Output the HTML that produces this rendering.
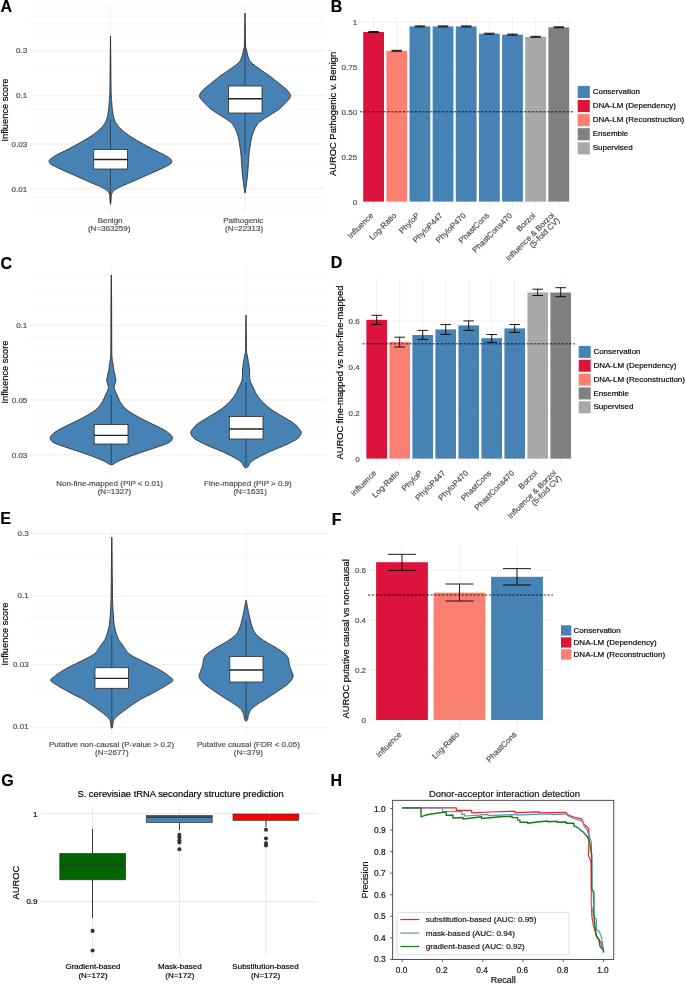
<!DOCTYPE html>
<html lang="en"><head><meta charset="utf-8"><title>Figure</title>
<style>html,body{margin:0;padding:0;background:#fff}svg{display:block}text{font-family:"Liberation Sans", Arial, Helvetica, sans-serif}</style>
</head><body>
<svg width="685" height="984" viewBox="0 0 685 984" font-family='"Liberation Sans", Arial, Helvetica, sans-serif'>
<rect x="0.00" y="0.00" width="685.00" height="984.00" fill="#fff"/>
<text x="0.50" y="12.40" font-size="16" fill="#000" stroke="#000" stroke-width="0.18" text-anchor="start" font-weight="bold">A</text>
<text x="330.70" y="12.40" font-size="16" fill="#000" stroke="#000" stroke-width="0.18" text-anchor="start" font-weight="bold">B</text>
<text x="0.50" y="268.60" font-size="16" fill="#000" stroke="#000" stroke-width="0.18" text-anchor="start" font-weight="bold">C</text>
<text x="330.70" y="268.40" font-size="16" fill="#000" stroke="#000" stroke-width="0.18" text-anchor="start" font-weight="bold">D</text>
<text x="0.20" y="524.40" font-size="16" fill="#000" stroke="#000" stroke-width="0.18" text-anchor="start" font-weight="bold">E</text>
<text x="331.80" y="524.70" font-size="16" fill="#000" stroke="#000" stroke-width="0.18" text-anchor="start" font-weight="bold">F</text>
<text x="1.20" y="785.80" font-size="16" fill="#000" stroke="#000" stroke-width="0.18" text-anchor="start" font-weight="bold">G</text>
<text x="330.60" y="785.80" font-size="16" fill="#000" stroke="#000" stroke-width="0.18" text-anchor="start" font-weight="bold">H</text>
<line x1="30.00" y1="209.28" x2="325.00" y2="209.28" stroke="#f3f3f3" stroke-width="0.5"/>
<line x1="30.00" y1="203.04" x2="325.00" y2="203.04" stroke="#f3f3f3" stroke-width="0.5"/>
<line x1="30.00" y1="197.63" x2="325.00" y2="197.63" stroke="#f3f3f3" stroke-width="0.5"/>
<line x1="30.00" y1="192.86" x2="325.00" y2="192.86" stroke="#f3f3f3" stroke-width="0.5"/>
<line x1="30.00" y1="160.54" x2="325.00" y2="160.54" stroke="#f3f3f3" stroke-width="0.5"/>
<line x1="30.00" y1="144.13" x2="325.00" y2="144.13" stroke="#f3f3f3" stroke-width="0.5"/>
<line x1="30.00" y1="132.49" x2="325.00" y2="132.49" stroke="#f3f3f3" stroke-width="0.5"/>
<line x1="30.00" y1="123.46" x2="325.00" y2="123.46" stroke="#f3f3f3" stroke-width="0.5"/>
<line x1="30.00" y1="116.08" x2="325.00" y2="116.08" stroke="#f3f3f3" stroke-width="0.5"/>
<line x1="30.00" y1="109.84" x2="325.00" y2="109.84" stroke="#f3f3f3" stroke-width="0.5"/>
<line x1="30.00" y1="104.43" x2="325.00" y2="104.43" stroke="#f3f3f3" stroke-width="0.5"/>
<line x1="30.00" y1="99.66" x2="325.00" y2="99.66" stroke="#f3f3f3" stroke-width="0.5"/>
<line x1="30.00" y1="67.34" x2="325.00" y2="67.34" stroke="#f3f3f3" stroke-width="0.5"/>
<line x1="30.00" y1="50.93" x2="325.00" y2="50.93" stroke="#f3f3f3" stroke-width="0.5"/>
<line x1="30.00" y1="39.29" x2="325.00" y2="39.29" stroke="#f3f3f3" stroke-width="0.5"/>
<line x1="30.00" y1="30.26" x2="325.00" y2="30.26" stroke="#f3f3f3" stroke-width="0.5"/>
<line x1="30.00" y1="22.88" x2="325.00" y2="22.88" stroke="#f3f3f3" stroke-width="0.5"/>
<line x1="30.00" y1="16.64" x2="325.00" y2="16.64" stroke="#f3f3f3" stroke-width="0.5"/>
<line x1="30.00" y1="11.23" x2="325.00" y2="11.23" stroke="#f3f3f3" stroke-width="0.5"/>
<line x1="30.00" y1="6.46" x2="325.00" y2="6.46" stroke="#f3f3f3" stroke-width="0.5"/>
<line x1="30.00" y1="50.50" x2="325.00" y2="50.50" stroke="#e9e9e9" stroke-width="0.65"/>
<text x="27.10" y="53.40" font-size="8" fill="#4d4d4d" stroke="#4d4d4d" stroke-width="0.18" text-anchor="end">0.3</text>
<line x1="30.00" y1="95.40" x2="325.00" y2="95.40" stroke="#e9e9e9" stroke-width="0.65"/>
<text x="27.10" y="98.30" font-size="8" fill="#4d4d4d" stroke="#4d4d4d" stroke-width="0.18" text-anchor="end">0.1</text>
<line x1="30.00" y1="144.00" x2="325.00" y2="144.00" stroke="#e9e9e9" stroke-width="0.65"/>
<text x="27.10" y="146.90" font-size="8" fill="#4d4d4d" stroke="#4d4d4d" stroke-width="0.18" text-anchor="end">0.03</text>
<line x1="30.00" y1="188.60" x2="325.00" y2="188.60" stroke="#e9e9e9" stroke-width="0.65"/>
<text x="27.10" y="191.50" font-size="8" fill="#4d4d4d" stroke="#4d4d4d" stroke-width="0.18" text-anchor="end">0.01</text>
<line x1="110.50" y1="5.00" x2="110.50" y2="213.50" stroke="#e9e9e9" stroke-width="0.65"/>
<line x1="245.00" y1="5.00" x2="245.00" y2="213.50" stroke="#e9e9e9" stroke-width="0.65"/>
<text transform="translate(8.20,110.00) rotate(-90)" font-size="9.3" fill="#000" stroke="#000" stroke-width="0.18" text-anchor="middle">Influence score</text>
<path d="M110.50,36.00 L110.47,38.60 L110.42,42.19 L110.36,46.44 L110.30,51.04 L110.25,55.66 L110.20,60.00 L110.16,64.28 L110.13,68.80 L110.10,73.34 L110.07,77.70 L110.04,81.66 L110.00,85.00 L109.96,87.62 L109.91,89.69 L109.87,91.34 L109.82,92.76 L109.76,94.09 L109.70,95.50 L109.63,96.92 L109.56,98.22 L109.47,99.44 L109.39,100.61 L109.30,101.78 L109.20,103.00 L109.11,104.23 L109.03,105.43 L108.94,106.62 L108.84,107.85 L108.69,109.13 L108.50,110.50 L108.28,111.99 L108.04,113.59 L107.77,115.24 L107.44,116.90 L107.02,118.50 L106.50,120.00 L105.88,121.38 L105.20,122.68 L104.42,123.93 L103.56,125.15 L102.59,126.37 L101.50,127.60 L100.30,128.84 L98.99,130.07 L97.58,131.29 L96.06,132.52 L94.43,133.75 L92.70,135.00 L90.83,136.27 L88.82,137.56 L86.70,138.86 L84.51,140.15 L82.30,141.44 L80.10,142.70 L77.85,143.97 L75.51,145.25 L73.14,146.52 L70.80,147.75 L68.57,148.92 L66.50,150.00 L64.56,151.00 L62.69,151.93 L60.91,152.80 L59.27,153.60 L57.79,154.34 L56.50,155.00 L55.44,155.57 L54.60,156.04 L53.93,156.44 L53.35,156.80 L52.83,157.14 L52.30,157.50 L51.78,157.86 L51.31,158.20 L50.89,158.53 L50.51,158.85 L50.19,159.17 L49.90,159.50 L49.66,159.84 L49.46,160.17 L49.30,160.51 L49.19,160.85 L49.12,161.18 L49.10,161.50 L49.12,161.81 L49.20,162.12 L49.31,162.42 L49.47,162.71 L49.67,163.01 L49.90,163.30 L50.09,163.55 L50.23,163.75 L50.40,163.95 L50.71,164.19 L51.24,164.53 L52.10,165.00 L53.28,165.61 L54.69,166.32 L56.34,167.12 L58.20,168.00 L60.26,168.97 L62.50,170.00 L65.11,171.18 L68.14,172.53 L71.36,173.95 L74.57,175.36 L77.56,176.68 L80.10,177.80 L82.16,178.72 L83.89,179.50 L85.40,180.18 L86.77,180.79 L88.11,181.39 L89.50,182.00 L90.94,182.62 L92.36,183.22 L93.74,183.80 L95.07,184.36 L96.33,184.89 L97.50,185.40 L98.58,185.88 L99.58,186.33 L100.51,186.76 L101.38,187.18 L102.20,187.59 L103.00,188.00 L103.76,188.40 L104.48,188.79 L105.15,189.17 L105.78,189.56 L106.36,189.96 L106.90,190.40 L107.40,190.87 L107.85,191.37 L108.26,191.88 L108.62,192.41 L108.93,192.95 L109.20,193.50 L109.40,194.05 L109.54,194.62 L109.63,195.19 L109.69,195.78 L109.74,196.38 L109.80,197.00 L109.85,197.64 L109.89,198.31 L109.91,199.00 L109.93,199.69 L109.95,200.36 L110.00,201.00 L110.07,201.65 L110.16,202.33 L110.26,203.00 L110.36,203.61 L110.44,204.12 L110.50,204.50 L110.50,204.50 L110.56,204.12 L110.64,203.61 L110.74,203.00 L110.84,202.33 L110.93,201.65 L111.00,201.00 L111.05,200.36 L111.07,199.69 L111.09,199.00 L111.11,198.31 L111.15,197.64 L111.20,197.00 L111.26,196.38 L111.31,195.78 L111.37,195.19 L111.46,194.62 L111.60,194.05 L111.80,193.50 L112.07,192.95 L112.38,192.41 L112.74,191.88 L113.15,191.37 L113.60,190.87 L114.10,190.40 L114.64,189.96 L115.22,189.56 L115.85,189.17 L116.52,188.79 L117.24,188.40 L118.00,188.00 L118.80,187.59 L119.62,187.18 L120.49,186.76 L121.42,186.33 L122.42,185.88 L123.50,185.40 L124.67,184.89 L125.93,184.36 L127.26,183.80 L128.64,183.22 L130.06,182.62 L131.50,182.00 L132.89,181.39 L134.23,180.79 L135.60,180.18 L137.11,179.50 L138.84,178.72 L140.90,177.80 L143.44,176.68 L146.43,175.36 L149.64,173.95 L152.86,172.53 L155.89,171.18 L158.50,170.00 L160.74,168.97 L162.80,168.00 L164.66,167.12 L166.31,166.32 L167.72,165.61 L168.90,165.00 L169.76,164.53 L170.29,164.19 L170.60,163.95 L170.77,163.75 L170.91,163.55 L171.10,163.30 L171.33,163.01 L171.53,162.71 L171.69,162.42 L171.80,162.12 L171.88,161.81 L171.90,161.50 L171.88,161.18 L171.81,160.85 L171.70,160.51 L171.54,160.17 L171.34,159.84 L171.10,159.50 L170.81,159.17 L170.49,158.85 L170.11,158.53 L169.69,158.20 L169.22,157.86 L168.70,157.50 L168.17,157.14 L167.65,156.80 L167.07,156.44 L166.40,156.04 L165.56,155.57 L164.50,155.00 L163.21,154.34 L161.73,153.60 L160.09,152.80 L158.31,151.93 L156.44,151.00 L154.50,150.00 L152.43,148.92 L150.20,147.75 L147.86,146.52 L145.49,145.25 L143.15,143.97 L140.90,142.70 L138.70,141.44 L136.49,140.15 L134.30,138.86 L132.18,137.56 L130.17,136.27 L128.30,135.00 L126.57,133.75 L124.94,132.52 L123.42,131.29 L122.01,130.07 L120.70,128.84 L119.50,127.60 L118.41,126.37 L117.44,125.15 L116.58,123.93 L115.80,122.68 L115.12,121.38 L114.50,120.00 L113.98,118.50 L113.56,116.90 L113.23,115.24 L112.96,113.59 L112.72,111.99 L112.50,110.50 L112.31,109.13 L112.16,107.85 L112.06,106.62 L111.97,105.43 L111.89,104.23 L111.80,103.00 L111.70,101.78 L111.61,100.61 L111.53,99.44 L111.44,98.22 L111.37,96.92 L111.30,95.50 L111.24,94.09 L111.18,92.76 L111.13,91.34 L111.09,89.69 L111.04,87.62 L111.00,85.00 L110.96,81.66 L110.93,77.70 L110.90,73.34 L110.87,68.80 L110.84,64.28 L110.80,60.00 L110.75,55.66 L110.70,51.04 L110.64,46.44 L110.58,42.19 L110.53,38.60 L110.50,36.00Z" fill="#4682B4" stroke="#2b2b2b" stroke-width="0.9" stroke-linejoin="round"/>
<line x1="110.50" y1="120.00" x2="110.50" y2="149.40" stroke="#2b2b2b" stroke-width="0.7"/>
<line x1="110.50" y1="169.00" x2="110.50" y2="204.00" stroke="#2b2b2b" stroke-width="0.7"/>
<rect x="93.70" y="149.40" width="33.70" height="19.60" fill="#fff" stroke="#2b2b2b" stroke-width="0.8"/>
<line x1="93.70" y1="159.50" x2="127.40" y2="159.50" stroke="#222" stroke-width="1.35"/>
<path d="M245.00,13.00 L244.97,14.87 L244.92,17.48 L244.86,20.56 L244.80,23.85 L244.75,27.09 L244.70,30.00 L244.67,32.73 L244.66,35.52 L244.64,38.25 L244.62,40.81 L244.58,43.10 L244.50,45.00 L244.39,46.38 L244.26,47.30 L244.11,47.95 L243.94,48.50 L243.73,49.12 L243.50,50.00 L243.24,51.17 L242.94,52.50 L242.62,53.90 L242.28,55.30 L241.90,56.63 L241.50,57.80 L241.14,58.77 L240.84,59.58 L240.51,60.31 L240.06,61.04 L239.42,61.85 L238.50,62.80 L237.20,63.95 L235.56,65.24 L233.72,66.60 L231.83,67.96 L230.01,69.25 L228.40,70.40 L227.00,71.38 L225.70,72.26 L224.47,73.06 L223.29,73.83 L222.14,74.60 L221.00,75.40 L219.87,76.23 L218.79,77.07 L217.73,77.90 L216.69,78.73 L215.65,79.57 L214.60,80.40 L213.54,81.23 L212.47,82.06 L211.41,82.89 L210.36,83.73 L209.32,84.56 L208.30,85.40 L207.27,86.25 L206.23,87.10 L205.19,87.95 L204.21,88.80 L203.30,89.65 L202.50,90.50 L201.79,91.36 L201.13,92.23 L200.54,93.10 L200.06,93.95 L199.71,94.75 L199.50,95.50 L199.44,96.14 L199.50,96.67 L199.69,97.16 L200.00,97.67 L200.44,98.26 L201.00,99.00 L201.75,99.93 L202.70,101.02 L203.78,102.19 L204.91,103.37 L206.01,104.50 L207.00,105.50 L207.82,106.34 L208.52,107.06 L209.19,107.72 L209.93,108.39 L210.83,109.13 L212.00,110.00 L213.54,111.06 L215.41,112.26 L217.44,113.53 L219.48,114.80 L221.39,115.98 L223.00,117.00 L224.31,117.84 L225.44,118.56 L226.43,119.19 L227.32,119.78 L228.16,120.37 L229.00,121.00 L229.80,121.60 L230.52,122.11 L231.19,122.62 L231.84,123.22 L232.50,123.99 L233.20,125.00 L233.96,126.32 L234.77,127.89 L235.59,129.62 L236.37,131.44 L237.09,133.26 L237.70,135.00 L238.19,136.67 L238.58,138.33 L238.90,140.00 L239.18,141.67 L239.44,143.33 L239.70,145.00 L239.96,146.67 L240.21,148.33 L240.43,150.00 L240.64,151.67 L240.83,153.33 L241.00,155.00 L241.15,156.67 L241.27,158.33 L241.38,160.00 L241.48,161.67 L241.58,163.33 L241.70,165.00 L241.82,166.67 L241.94,168.33 L242.07,170.00 L242.20,171.67 L242.34,173.33 L242.50,175.00 L242.68,176.69 L242.87,178.41 L243.07,180.12 L243.28,181.81 L243.49,183.45 L243.70,185.00 L243.93,186.54 L244.17,188.11 L244.43,189.62 L244.66,191.00 L244.86,192.15 L245.00,193.00 L245.00,193.00 L245.14,192.15 L245.34,191.00 L245.57,189.62 L245.83,188.11 L246.07,186.54 L246.30,185.00 L246.51,183.45 L246.72,181.81 L246.93,180.12 L247.13,178.41 L247.32,176.69 L247.50,175.00 L247.66,173.33 L247.80,171.67 L247.93,170.00 L248.06,168.33 L248.18,166.67 L248.30,165.00 L248.42,163.33 L248.52,161.67 L248.62,160.00 L248.73,158.33 L248.85,156.67 L249.00,155.00 L249.17,153.33 L249.36,151.67 L249.57,150.00 L249.79,148.33 L250.04,146.67 L250.30,145.00 L250.56,143.33 L250.82,141.67 L251.10,140.00 L251.42,138.33 L251.81,136.67 L252.30,135.00 L252.91,133.26 L253.63,131.44 L254.41,129.62 L255.23,127.89 L256.04,126.32 L256.80,125.00 L257.50,123.99 L258.16,123.22 L258.81,122.62 L259.48,122.11 L260.20,121.60 L261.00,121.00 L261.84,120.37 L262.68,119.78 L263.57,119.19 L264.56,118.56 L265.69,117.84 L267.00,117.00 L268.61,115.98 L270.52,114.80 L272.56,113.53 L274.59,112.26 L276.46,111.06 L278.00,110.00 L279.17,109.13 L280.07,108.39 L280.81,107.72 L281.48,107.06 L282.18,106.34 L283.00,105.50 L283.99,104.50 L285.09,103.37 L286.22,102.19 L287.30,101.02 L288.25,99.93 L289.00,99.00 L289.56,98.26 L290.00,97.67 L290.31,97.16 L290.50,96.67 L290.56,96.14 L290.50,95.50 L290.29,94.75 L289.94,93.95 L289.46,93.10 L288.87,92.23 L288.21,91.36 L287.50,90.50 L286.70,89.65 L285.79,88.80 L284.81,87.95 L283.77,87.10 L282.73,86.25 L281.70,85.40 L280.68,84.56 L279.64,83.73 L278.59,82.89 L277.53,82.06 L276.46,81.23 L275.40,80.40 L274.35,79.57 L273.31,78.73 L272.27,77.90 L271.21,77.07 L270.13,76.23 L269.00,75.40 L267.86,74.60 L266.71,73.83 L265.53,73.06 L264.30,72.26 L263.00,71.38 L261.60,70.40 L259.99,69.25 L258.17,67.96 L256.27,66.60 L254.44,65.24 L252.80,63.95 L251.50,62.80 L250.58,61.85 L249.94,61.04 L249.49,60.31 L249.16,59.58 L248.86,58.77 L248.50,57.80 L248.10,56.63 L247.72,55.30 L247.38,53.90 L247.06,52.50 L246.76,51.17 L246.50,50.00 L246.27,49.12 L246.06,48.50 L245.89,47.95 L245.74,47.30 L245.61,46.38 L245.50,45.00 L245.42,43.10 L245.38,40.81 L245.36,38.25 L245.34,35.52 L245.33,32.73 L245.30,30.00 L245.25,27.09 L245.20,23.85 L245.14,20.56 L245.08,17.48 L245.03,14.87 L245.00,13.00Z" fill="#4682B4" stroke="#2b2b2b" stroke-width="0.9" stroke-linejoin="round"/>
<line x1="245.00" y1="40.00" x2="245.00" y2="86.00" stroke="#2b2b2b" stroke-width="0.7"/>
<line x1="245.00" y1="113.00" x2="245.00" y2="154.00" stroke="#2b2b2b" stroke-width="0.7"/>
<rect x="228.50" y="86.00" width="33.50" height="27.00" fill="#fff" stroke="#2b2b2b" stroke-width="0.8"/>
<line x1="228.50" y1="98.70" x2="262.00" y2="98.70" stroke="#222" stroke-width="1.35"/>
<text x="110.10" y="223.40" font-size="8" fill="#4d4d4d" stroke="#4d4d4d" stroke-width="0.18" text-anchor="middle">Benign</text>
<text x="109.20" y="231.40" font-size="8" fill="#4d4d4d" stroke="#4d4d4d" stroke-width="0.18" text-anchor="middle">(N=363259)</text>
<text x="243.30" y="223.40" font-size="8" fill="#4d4d4d" stroke="#4d4d4d" stroke-width="0.18" text-anchor="middle">Pathogenic</text>
<text x="244.10" y="231.40" font-size="8" fill="#4d4d4d" stroke="#4d4d4d" stroke-width="0.18" text-anchor="middle">(N=22313)</text>
<line x1="360.00" y1="22.00" x2="573.00" y2="22.00" stroke="#e9e9e9" stroke-width="0.65"/>
<text x="357.20" y="24.90" font-size="8" fill="#4d4d4d" stroke="#4d4d4d" stroke-width="0.18" text-anchor="end">1</text>
<line x1="360.00" y1="66.90" x2="573.00" y2="66.90" stroke="#e9e9e9" stroke-width="0.65"/>
<text x="357.20" y="69.80" font-size="8" fill="#4d4d4d" stroke="#4d4d4d" stroke-width="0.18" text-anchor="end">0.75</text>
<line x1="360.00" y1="111.80" x2="573.00" y2="111.80" stroke="#e9e9e9" stroke-width="0.65"/>
<text x="357.20" y="114.70" font-size="8" fill="#4d4d4d" stroke="#4d4d4d" stroke-width="0.18" text-anchor="end">0.50</text>
<line x1="360.00" y1="156.70" x2="573.00" y2="156.70" stroke="#e9e9e9" stroke-width="0.65"/>
<text x="357.20" y="159.60" font-size="8" fill="#4d4d4d" stroke="#4d4d4d" stroke-width="0.18" text-anchor="end">0.25</text>
<line x1="360.00" y1="201.60" x2="573.00" y2="201.60" stroke="#e9e9e9" stroke-width="0.65"/>
<text x="357.20" y="204.50" font-size="8" fill="#4d4d4d" stroke="#4d4d4d" stroke-width="0.18" text-anchor="end">0</text>
<line x1="373.60" y1="17.00" x2="373.60" y2="210.00" stroke="#e9e9e9" stroke-width="0.65"/>
<line x1="396.75" y1="17.00" x2="396.75" y2="210.00" stroke="#e9e9e9" stroke-width="0.65"/>
<line x1="419.90" y1="17.00" x2="419.90" y2="210.00" stroke="#e9e9e9" stroke-width="0.65"/>
<line x1="443.05" y1="17.00" x2="443.05" y2="210.00" stroke="#e9e9e9" stroke-width="0.65"/>
<line x1="466.20" y1="17.00" x2="466.20" y2="210.00" stroke="#e9e9e9" stroke-width="0.65"/>
<line x1="489.35" y1="17.00" x2="489.35" y2="210.00" stroke="#e9e9e9" stroke-width="0.65"/>
<line x1="512.50" y1="17.00" x2="512.50" y2="210.00" stroke="#e9e9e9" stroke-width="0.65"/>
<line x1="535.65" y1="17.00" x2="535.65" y2="210.00" stroke="#e9e9e9" stroke-width="0.65"/>
<line x1="558.80" y1="17.00" x2="558.80" y2="210.00" stroke="#e9e9e9" stroke-width="0.65"/>
<rect x="363.20" y="32.00" width="20.80" height="169.60" fill="#DC143C"/>
<rect x="386.35" y="50.80" width="20.80" height="150.80" fill="#FA8072"/>
<rect x="409.50" y="26.40" width="20.80" height="175.20" fill="#4682B4"/>
<rect x="432.65" y="26.40" width="20.80" height="175.20" fill="#4682B4"/>
<rect x="455.80" y="26.40" width="20.80" height="175.20" fill="#4682B4"/>
<rect x="478.95" y="33.70" width="20.80" height="167.90" fill="#4682B4"/>
<rect x="502.10" y="34.60" width="20.80" height="167.00" fill="#4682B4"/>
<rect x="525.25" y="36.80" width="20.80" height="164.80" fill="#A9A9A9"/>
<rect x="548.40" y="27.30" width="20.80" height="174.30" fill="#808080"/>
<line x1="373.60" y1="31.50" x2="373.60" y2="32.50" stroke="#000" stroke-width="0.9"/>
<line x1="368.40" y1="31.50" x2="378.80" y2="31.50" stroke="#000" stroke-width="0.9"/>
<line x1="368.40" y1="32.50" x2="378.80" y2="32.50" stroke="#000" stroke-width="0.9"/>
<line x1="396.75" y1="50.30" x2="396.75" y2="51.30" stroke="#000" stroke-width="0.9"/>
<line x1="391.55" y1="50.30" x2="401.95" y2="50.30" stroke="#000" stroke-width="0.9"/>
<line x1="391.55" y1="51.30" x2="401.95" y2="51.30" stroke="#000" stroke-width="0.9"/>
<line x1="419.90" y1="25.90" x2="419.90" y2="26.90" stroke="#000" stroke-width="0.9"/>
<line x1="414.70" y1="25.90" x2="425.10" y2="25.90" stroke="#000" stroke-width="0.9"/>
<line x1="414.70" y1="26.90" x2="425.10" y2="26.90" stroke="#000" stroke-width="0.9"/>
<line x1="443.05" y1="25.90" x2="443.05" y2="26.90" stroke="#000" stroke-width="0.9"/>
<line x1="437.85" y1="25.90" x2="448.25" y2="25.90" stroke="#000" stroke-width="0.9"/>
<line x1="437.85" y1="26.90" x2="448.25" y2="26.90" stroke="#000" stroke-width="0.9"/>
<line x1="466.20" y1="25.90" x2="466.20" y2="26.90" stroke="#000" stroke-width="0.9"/>
<line x1="461.00" y1="25.90" x2="471.40" y2="25.90" stroke="#000" stroke-width="0.9"/>
<line x1="461.00" y1="26.90" x2="471.40" y2="26.90" stroke="#000" stroke-width="0.9"/>
<line x1="489.35" y1="33.20" x2="489.35" y2="34.20" stroke="#000" stroke-width="0.9"/>
<line x1="484.15" y1="33.20" x2="494.55" y2="33.20" stroke="#000" stroke-width="0.9"/>
<line x1="484.15" y1="34.20" x2="494.55" y2="34.20" stroke="#000" stroke-width="0.9"/>
<line x1="512.50" y1="34.10" x2="512.50" y2="35.10" stroke="#000" stroke-width="0.9"/>
<line x1="507.30" y1="34.10" x2="517.70" y2="34.10" stroke="#000" stroke-width="0.9"/>
<line x1="507.30" y1="35.10" x2="517.70" y2="35.10" stroke="#000" stroke-width="0.9"/>
<line x1="535.65" y1="36.30" x2="535.65" y2="37.30" stroke="#000" stroke-width="0.9"/>
<line x1="530.45" y1="36.30" x2="540.85" y2="36.30" stroke="#000" stroke-width="0.9"/>
<line x1="530.45" y1="37.30" x2="540.85" y2="37.30" stroke="#000" stroke-width="0.9"/>
<line x1="558.80" y1="26.80" x2="558.80" y2="27.80" stroke="#000" stroke-width="0.9"/>
<line x1="553.60" y1="26.80" x2="564.00" y2="26.80" stroke="#000" stroke-width="0.9"/>
<line x1="553.60" y1="27.80" x2="564.00" y2="27.80" stroke="#000" stroke-width="0.9"/>
<line x1="360.00" y1="111.80" x2="574.00" y2="111.80" stroke="#000" stroke-width="0.8" stroke-dasharray="2.4,1.5"/>
<text transform="translate(373.80,216.00) rotate(-45)" font-size="8" fill="#4d4d4d" stroke="#4d4d4d" stroke-width="0.18" text-anchor="end">Influence</text>
<text transform="translate(396.95,216.00) rotate(-45)" font-size="8" fill="#4d4d4d" stroke="#4d4d4d" stroke-width="0.18" text-anchor="end">Log-Ratio</text>
<text transform="translate(420.10,216.00) rotate(-45)" font-size="8" fill="#4d4d4d" stroke="#4d4d4d" stroke-width="0.18" text-anchor="end">PhyloP</text>
<text transform="translate(443.25,216.00) rotate(-45)" font-size="8" fill="#4d4d4d" stroke="#4d4d4d" stroke-width="0.18" text-anchor="end">PhyloP447</text>
<text transform="translate(466.40,216.00) rotate(-45)" font-size="8" fill="#4d4d4d" stroke="#4d4d4d" stroke-width="0.18" text-anchor="end">PhyloP470</text>
<text transform="translate(489.55,216.00) rotate(-45)" font-size="8" fill="#4d4d4d" stroke="#4d4d4d" stroke-width="0.18" text-anchor="end">PhastCons</text>
<text transform="translate(512.70,216.00) rotate(-45)" font-size="8" fill="#4d4d4d" stroke="#4d4d4d" stroke-width="0.18" text-anchor="end">PhastCons470</text>
<text transform="translate(535.85,216.00) rotate(-45)" font-size="8" fill="#4d4d4d" stroke="#4d4d4d" stroke-width="0.18" text-anchor="end">Borzoi</text>
<g transform="translate(554.80,215.70) rotate(-45)">
<text font-size="8" fill="#4d4d4d" stroke="#4d4d4d" stroke-width="0.18" text-anchor="end" x="0" y="0">Influence &amp; Borzoi</text>
<text font-size="8" fill="#4d4d4d" stroke="#4d4d4d" stroke-width="0.18" text-anchor="end" x="0" y="7.4">(5-fold CV)</text>
</g>
<text transform="translate(336.00,113.90) rotate(-90)" font-size="9.4" fill="#000" stroke="#000" stroke-width="0.18" text-anchor="middle">AUROC Pathogenic v. Benign</text>
<rect x="577.70" y="85.90" width="12.10" height="12.10" fill="#4682B4"/>
<text x="592.70" y="94.05" font-size="8" fill="#000" stroke="#000" stroke-width="0.18" text-anchor="start">Conservation</text>
<rect x="577.70" y="100.00" width="12.10" height="12.10" fill="#DC143C"/>
<text x="592.70" y="108.15" font-size="8" fill="#000" stroke="#000" stroke-width="0.18" text-anchor="start">DNA-LM (Dependency)</text>
<rect x="577.70" y="114.10" width="12.10" height="12.10" fill="#FA8072"/>
<text x="592.70" y="122.25" font-size="8" fill="#000" stroke="#000" stroke-width="0.18" text-anchor="start">DNA-LM (Reconstruction)</text>
<rect x="577.70" y="128.20" width="12.10" height="12.10" fill="#808080"/>
<text x="592.70" y="136.35" font-size="8" fill="#000" stroke="#000" stroke-width="0.18" text-anchor="start">Ensemble</text>
<rect x="577.70" y="142.30" width="12.10" height="12.10" fill="#A9A9A9"/>
<text x="592.70" y="150.45" font-size="8" fill="#000" stroke="#000" stroke-width="0.18" text-anchor="start">Supervised</text>
<line x1="30.00" y1="454.97" x2="327.00" y2="454.97" stroke="#f3f3f3" stroke-width="0.5"/>
<line x1="30.00" y1="438.38" x2="327.00" y2="438.38" stroke="#f3f3f3" stroke-width="0.5"/>
<line x1="30.00" y1="424.01" x2="327.00" y2="424.01" stroke="#f3f3f3" stroke-width="0.5"/>
<line x1="30.00" y1="411.33" x2="327.00" y2="411.33" stroke="#f3f3f3" stroke-width="0.5"/>
<line x1="30.00" y1="400.00" x2="327.00" y2="400.00" stroke="#f3f3f3" stroke-width="0.5"/>
<line x1="30.00" y1="380.37" x2="327.00" y2="380.37" stroke="#f3f3f3" stroke-width="0.5"/>
<line x1="30.00" y1="363.78" x2="327.00" y2="363.78" stroke="#f3f3f3" stroke-width="0.5"/>
<line x1="30.00" y1="349.41" x2="327.00" y2="349.41" stroke="#f3f3f3" stroke-width="0.5"/>
<line x1="30.00" y1="336.74" x2="327.00" y2="336.74" stroke="#f3f3f3" stroke-width="0.5"/>
<line x1="30.00" y1="325.40" x2="327.00" y2="325.40" stroke="#f3f3f3" stroke-width="0.5"/>
<line x1="30.00" y1="305.78" x2="327.00" y2="305.78" stroke="#f3f3f3" stroke-width="0.5"/>
<line x1="30.00" y1="289.19" x2="327.00" y2="289.19" stroke="#f3f3f3" stroke-width="0.5"/>
<line x1="30.00" y1="274.82" x2="327.00" y2="274.82" stroke="#f3f3f3" stroke-width="0.5"/>
<line x1="30.00" y1="325.40" x2="327.00" y2="325.40" stroke="#e9e9e9" stroke-width="0.65"/>
<text x="27.30" y="328.30" font-size="8" fill="#4d4d4d" stroke="#4d4d4d" stroke-width="0.18" text-anchor="end">0.1</text>
<line x1="30.00" y1="400.00" x2="327.00" y2="400.00" stroke="#e9e9e9" stroke-width="0.65"/>
<text x="27.30" y="402.90" font-size="8" fill="#4d4d4d" stroke="#4d4d4d" stroke-width="0.18" text-anchor="end">0.05</text>
<line x1="30.00" y1="455.00" x2="327.00" y2="455.00" stroke="#e9e9e9" stroke-width="0.65"/>
<text x="27.30" y="457.90" font-size="8" fill="#4d4d4d" stroke="#4d4d4d" stroke-width="0.18" text-anchor="end">0.03</text>
<line x1="111.30" y1="266.00" x2="111.30" y2="473.00" stroke="#e9e9e9" stroke-width="0.65"/>
<line x1="246.00" y1="266.00" x2="246.00" y2="473.00" stroke="#e9e9e9" stroke-width="0.65"/>
<text transform="translate(8.20,372.00) rotate(-90)" font-size="9.3" fill="#000" stroke="#000" stroke-width="0.18" text-anchor="middle">Influence score</text>
<path d="M111.30,275.00 L111.27,277.66 L111.21,281.30 L111.16,285.62 L111.10,290.37 L111.04,295.25 L111.00,300.00 L110.97,304.76 L110.96,309.79 L110.94,314.96 L110.93,320.14 L110.92,325.20 L110.90,330.00 L110.89,334.70 L110.89,339.44 L110.88,344.05 L110.86,348.39 L110.80,352.29 L110.70,355.60 L110.53,358.23 L110.29,360.30 L110.02,361.93 L109.74,363.26 L109.50,364.44 L109.30,365.60 L109.18,366.59 L109.12,367.27 L109.09,367.80 L109.04,368.33 L108.96,369.01 L108.80,370.00 L108.51,371.37 L108.11,373.01 L107.67,374.80 L107.26,376.64 L106.94,378.41 L106.80,380.00 L106.91,381.41 L107.23,382.72 L107.66,383.96 L108.07,385.17 L108.35,386.37 L108.40,387.60 L108.19,388.84 L107.80,390.07 L107.28,391.29 L106.69,392.52 L106.08,393.75 L105.50,395.00 L104.96,396.27 L104.42,397.56 L103.86,398.86 L103.26,400.15 L102.58,401.44 L101.80,402.70 L100.97,403.94 L100.13,405.15 L99.21,406.35 L98.16,407.55 L96.94,408.76 L95.50,410.00 L93.76,411.28 L91.77,412.59 L89.59,413.91 L87.33,415.22 L85.07,416.49 L82.90,417.70 L80.80,418.83 L78.70,419.90 L76.59,420.94 L74.49,421.95 L72.39,422.97 L70.30,424.00 L68.14,425.07 L65.90,426.15 L63.66,427.23 L61.50,428.30 L59.52,429.33 L57.80,430.30 L56.33,431.22 L55.05,432.11 L53.94,432.96 L52.99,433.78 L52.18,434.56 L51.50,435.30 L50.94,435.99 L50.53,436.62 L50.26,437.22 L50.13,437.80 L50.14,438.39 L50.30,439.00 L50.56,439.63 L50.90,440.24 L51.38,440.87 L52.07,441.51 L53.02,442.18 L54.30,442.90 L55.98,443.67 L58.04,444.49 L60.36,445.33 L62.83,446.19 L65.35,447.05 L67.80,447.90 L70.24,448.73 L72.76,449.56 L75.33,450.39 L77.90,451.23 L80.44,452.06 L82.90,452.90 L85.35,453.77 L87.84,454.67 L90.30,455.57 L92.64,456.45 L94.80,457.27 L96.70,458.00 L98.31,458.63 L99.70,459.19 L100.89,459.69 L101.95,460.15 L102.90,460.58 L103.80,461.00 L104.61,461.40 L105.29,461.77 L105.87,462.11 L106.38,462.42 L106.85,462.72 L107.30,463.00 L107.72,463.27 L108.08,463.51 L108.39,463.74 L108.69,463.95 L108.98,464.14 L109.30,464.30 L109.66,464.44 L110.04,464.54 L110.42,464.63 L110.78,464.70 L111.08,464.75 L111.30,464.80 L111.30,464.80 L111.52,464.75 L111.82,464.70 L112.17,464.63 L112.56,464.54 L112.94,464.44 L113.30,464.30 L113.62,464.14 L113.91,463.95 L114.21,463.74 L114.52,463.51 L114.88,463.27 L115.30,463.00 L115.75,462.72 L116.22,462.42 L116.73,462.11 L117.31,461.77 L117.99,461.40 L118.80,461.00 L119.70,460.58 L120.65,460.15 L121.71,459.69 L122.90,459.19 L124.29,458.63 L125.90,458.00 L127.80,457.27 L129.96,456.45 L132.30,455.57 L134.76,454.67 L137.25,453.77 L139.70,452.90 L142.16,452.06 L144.70,451.23 L147.27,450.39 L149.84,449.56 L152.36,448.73 L154.80,447.90 L157.25,447.05 L159.77,446.19 L162.24,445.33 L164.56,444.49 L166.62,443.67 L168.30,442.90 L169.58,442.18 L170.53,441.51 L171.22,440.87 L171.70,440.24 L172.04,439.63 L172.30,439.00 L172.46,438.39 L172.47,437.80 L172.34,437.22 L172.07,436.62 L171.66,435.99 L171.10,435.30 L170.42,434.56 L169.61,433.78 L168.66,432.96 L167.55,432.11 L166.27,431.22 L164.80,430.30 L163.08,429.33 L161.10,428.30 L158.94,427.23 L156.70,426.15 L154.46,425.07 L152.30,424.00 L150.21,422.97 L148.11,421.95 L146.01,420.94 L143.90,419.90 L141.80,418.83 L139.70,417.70 L137.53,416.49 L135.27,415.22 L133.01,413.91 L130.83,412.59 L128.84,411.28 L127.10,410.00 L125.66,408.76 L124.44,407.55 L123.39,406.35 L122.47,405.15 L121.63,403.94 L120.80,402.70 L120.02,401.44 L119.34,400.15 L118.74,398.86 L118.18,397.56 L117.64,396.27 L117.10,395.00 L116.52,393.75 L115.91,392.52 L115.32,391.29 L114.80,390.07 L114.41,388.84 L114.20,387.60 L114.25,386.37 L114.53,385.17 L114.94,383.96 L115.37,382.72 L115.69,381.41 L115.80,380.00 L115.66,378.41 L115.34,376.64 L114.93,374.80 L114.49,373.01 L114.09,371.37 L113.80,370.00 L113.64,369.01 L113.56,368.33 L113.51,367.80 L113.48,367.27 L113.42,366.59 L113.30,365.60 L113.10,364.44 L112.86,363.26 L112.58,361.93 L112.31,360.30 L112.07,358.23 L111.90,355.60 L111.80,352.29 L111.74,348.39 L111.72,344.05 L111.71,339.44 L111.71,334.70 L111.70,330.00 L111.68,325.20 L111.67,320.14 L111.66,314.96 L111.64,309.79 L111.63,304.76 L111.60,300.00 L111.56,295.25 L111.50,290.37 L111.44,285.62 L111.39,281.30 L111.33,277.66 L111.30,275.00Z" fill="#4682B4" stroke="#2b2b2b" stroke-width="0.9" stroke-linejoin="round"/>
<line x1="111.30" y1="395.00" x2="111.30" y2="424.50" stroke="#2b2b2b" stroke-width="0.7"/>
<line x1="111.30" y1="444.00" x2="111.30" y2="463.00" stroke="#2b2b2b" stroke-width="0.7"/>
<rect x="94.20" y="424.50" width="33.80" height="19.50" fill="#fff" stroke="#2b2b2b" stroke-width="0.8"/>
<line x1="94.20" y1="435.30" x2="128.00" y2="435.30" stroke="#222" stroke-width="1.35"/>
<path d="M246.00,315.00 L245.97,317.23 L245.92,320.35 L245.86,324.03 L245.80,327.93 L245.75,331.70 L245.70,335.00 L245.67,337.96 L245.65,340.89 L245.63,343.68 L245.61,346.27 L245.57,348.57 L245.50,350.50 L245.41,351.90 L245.31,352.79 L245.19,353.39 L245.06,353.92 L244.89,354.59 L244.70,355.60 L244.45,357.05 L244.16,358.78 L243.83,360.64 L243.51,362.50 L243.22,364.20 L243.00,365.60 L242.85,366.59 L242.74,367.27 L242.68,367.80 L242.62,368.33 L242.57,369.01 L242.50,370.00 L242.45,371.37 L242.44,373.01 L242.43,374.80 L242.37,376.64 L242.25,378.41 L242.00,380.00 L241.62,381.41 L241.12,382.72 L240.55,383.96 L239.93,385.17 L239.31,386.37 L238.70,387.60 L238.14,388.84 L237.59,390.07 L237.04,391.29 L236.44,392.52 L235.77,393.75 L235.00,395.00 L234.13,396.27 L233.18,397.56 L232.16,398.86 L231.07,400.15 L229.92,401.44 L228.70,402.70 L227.44,403.94 L226.13,405.15 L224.75,406.35 L223.29,407.55 L221.71,408.76 L220.00,410.00 L218.08,411.28 L215.96,412.59 L213.73,413.91 L211.48,415.22 L209.31,416.49 L207.30,417.70 L205.43,418.83 L203.60,419.90 L201.86,420.94 L200.21,421.95 L198.68,422.97 L197.30,424.00 L196.06,425.08 L194.93,426.20 L193.92,427.31 L193.04,428.39 L192.30,429.40 L191.70,430.30 L191.25,431.05 L190.93,431.68 L190.75,432.23 L190.70,432.77 L190.79,433.34 L191.00,434.00 L191.30,434.74 L191.68,435.52 L192.19,436.33 L192.88,437.18 L193.80,438.07 L195.00,439.00 L196.54,439.99 L198.38,441.03 L200.46,442.12 L202.69,443.22 L204.99,444.32 L207.30,445.40 L209.68,446.46 L212.22,447.51 L214.83,448.56 L217.45,449.60 L220.00,450.65 L222.40,451.70 L224.72,452.78 L227.03,453.89 L229.27,454.99 L231.38,456.07 L233.31,457.08 L235.00,458.00 L236.43,458.81 L237.64,459.54 L238.66,460.21 L239.54,460.83 L240.31,461.42 L241.00,462.00 L241.57,462.57 L241.99,463.11 L242.30,463.62 L242.54,464.11 L242.76,464.57 L243.00,465.00 L243.24,465.41 L243.44,465.79 L243.61,466.14 L243.79,466.46 L243.97,466.75 L244.20,467.00 L244.49,467.21 L244.82,467.39 L245.18,467.52 L245.51,467.64 L245.80,467.73 L246.00,467.80 L246.00,467.80 L246.20,467.73 L246.49,467.64 L246.82,467.52 L247.18,467.39 L247.51,467.21 L247.80,467.00 L248.03,466.75 L248.21,466.46 L248.39,466.14 L248.56,465.79 L248.76,465.41 L249.00,465.00 L249.24,464.57 L249.46,464.11 L249.70,463.62 L250.01,463.11 L250.43,462.57 L251.00,462.00 L251.69,461.42 L252.46,460.83 L253.34,460.21 L254.36,459.54 L255.57,458.81 L257.00,458.00 L258.69,457.08 L260.62,456.07 L262.73,454.99 L264.97,453.89 L267.28,452.78 L269.60,451.70 L272.00,450.65 L274.55,449.60 L277.17,448.56 L279.78,447.51 L282.32,446.46 L284.70,445.40 L287.01,444.32 L289.31,443.22 L291.54,442.12 L293.62,441.03 L295.46,439.99 L297.00,439.00 L298.20,438.07 L299.12,437.18 L299.81,436.33 L300.32,435.52 L300.70,434.74 L301.00,434.00 L301.21,433.34 L301.30,432.77 L301.25,432.23 L301.07,431.68 L300.75,431.05 L300.30,430.30 L299.70,429.40 L298.96,428.39 L298.08,427.31 L297.07,426.20 L295.94,425.08 L294.70,424.00 L293.32,422.97 L291.79,421.95 L290.14,420.94 L288.40,419.90 L286.57,418.83 L284.70,417.70 L282.69,416.49 L280.52,415.22 L278.27,413.91 L276.04,412.59 L273.92,411.28 L272.00,410.00 L270.29,408.76 L268.71,407.55 L267.25,406.35 L265.87,405.15 L264.56,403.94 L263.30,402.70 L262.08,401.44 L260.93,400.15 L259.84,398.86 L258.82,397.56 L257.87,396.27 L257.00,395.00 L256.23,393.75 L255.56,392.52 L254.96,391.29 L254.41,390.07 L253.86,388.84 L253.30,387.60 L252.69,386.37 L252.07,385.17 L251.45,383.96 L250.88,382.72 L250.38,381.41 L250.00,380.00 L249.75,378.41 L249.63,376.64 L249.57,374.80 L249.56,373.01 L249.55,371.37 L249.50,370.00 L249.43,369.01 L249.38,368.33 L249.32,367.80 L249.26,367.27 L249.15,366.59 L249.00,365.60 L248.78,364.20 L248.49,362.50 L248.17,360.64 L247.84,358.78 L247.55,357.05 L247.30,355.60 L247.11,354.59 L246.94,353.92 L246.81,353.39 L246.69,352.79 L246.59,351.90 L246.50,350.50 L246.43,348.57 L246.39,346.27 L246.37,343.68 L246.35,340.89 L246.33,337.96 L246.30,335.00 L246.25,331.70 L246.20,327.93 L246.14,324.03 L246.08,320.35 L246.03,317.23 L246.00,315.00Z" fill="#4682B4" stroke="#2b2b2b" stroke-width="0.9" stroke-linejoin="round"/>
<line x1="246.00" y1="382.50" x2="246.00" y2="416.50" stroke="#2b2b2b" stroke-width="0.7"/>
<line x1="246.00" y1="439.00" x2="246.00" y2="466.00" stroke="#2b2b2b" stroke-width="0.7"/>
<rect x="229.30" y="416.50" width="33.70" height="22.50" fill="#fff" stroke="#2b2b2b" stroke-width="0.8"/>
<line x1="229.30" y1="429.00" x2="263.00" y2="429.00" stroke="#222" stroke-width="1.35"/>
<text x="109.60" y="486.00" font-size="8" fill="#4d4d4d" stroke="#4d4d4d" stroke-width="0.18" text-anchor="middle">Non-fine-mapped (PIP &lt; 0.01)</text>
<text x="114.50" y="493.90" font-size="8" fill="#4d4d4d" stroke="#4d4d4d" stroke-width="0.18" text-anchor="middle">(N=1327)</text>
<text x="247.90" y="486.00" font-size="8" fill="#4d4d4d" stroke="#4d4d4d" stroke-width="0.18" text-anchor="middle">Fine-mapped (PIP &gt; 0.9)</text>
<text x="250.20" y="493.90" font-size="8" fill="#4d4d4d" stroke="#4d4d4d" stroke-width="0.18" text-anchor="middle">(N=1631)</text>
<line x1="362.50" y1="320.90" x2="574.00" y2="320.90" stroke="#e9e9e9" stroke-width="0.65"/>
<text x="359.60" y="323.80" font-size="8" fill="#4d4d4d" stroke="#4d4d4d" stroke-width="0.18" text-anchor="end">0.6</text>
<line x1="362.50" y1="366.80" x2="574.00" y2="366.80" stroke="#e9e9e9" stroke-width="0.65"/>
<text x="359.60" y="369.70" font-size="8" fill="#4d4d4d" stroke="#4d4d4d" stroke-width="0.18" text-anchor="end">0.4</text>
<line x1="362.50" y1="412.70" x2="574.00" y2="412.70" stroke="#e9e9e9" stroke-width="0.65"/>
<text x="359.60" y="415.60" font-size="8" fill="#4d4d4d" stroke="#4d4d4d" stroke-width="0.18" text-anchor="end">0.2</text>
<line x1="362.50" y1="458.60" x2="574.00" y2="458.60" stroke="#e9e9e9" stroke-width="0.65"/>
<text x="359.60" y="461.50" font-size="8" fill="#4d4d4d" stroke="#4d4d4d" stroke-width="0.18" text-anchor="end">0</text>
<line x1="376.70" y1="279.00" x2="376.70" y2="467.00" stroke="#e9e9e9" stroke-width="0.65"/>
<line x1="399.70" y1="279.00" x2="399.70" y2="467.00" stroke="#e9e9e9" stroke-width="0.65"/>
<line x1="422.70" y1="279.00" x2="422.70" y2="467.00" stroke="#e9e9e9" stroke-width="0.65"/>
<line x1="445.70" y1="279.00" x2="445.70" y2="467.00" stroke="#e9e9e9" stroke-width="0.65"/>
<line x1="468.70" y1="279.00" x2="468.70" y2="467.00" stroke="#e9e9e9" stroke-width="0.65"/>
<line x1="491.70" y1="279.00" x2="491.70" y2="467.00" stroke="#e9e9e9" stroke-width="0.65"/>
<line x1="514.70" y1="279.00" x2="514.70" y2="467.00" stroke="#e9e9e9" stroke-width="0.65"/>
<line x1="537.70" y1="279.00" x2="537.70" y2="467.00" stroke="#e9e9e9" stroke-width="0.65"/>
<line x1="560.70" y1="279.00" x2="560.70" y2="467.00" stroke="#e9e9e9" stroke-width="0.65"/>
<rect x="366.40" y="319.80" width="20.60" height="138.80" fill="#DC143C"/>
<rect x="389.40" y="342.00" width="20.60" height="116.60" fill="#FA8072"/>
<rect x="412.40" y="335.00" width="20.60" height="123.60" fill="#4682B4"/>
<rect x="435.40" y="329.40" width="20.60" height="129.20" fill="#4682B4"/>
<rect x="458.40" y="325.40" width="20.60" height="133.20" fill="#4682B4"/>
<rect x="481.40" y="338.20" width="20.60" height="120.40" fill="#4682B4"/>
<rect x="504.40" y="328.40" width="20.60" height="130.20" fill="#4682B4"/>
<rect x="527.40" y="292.50" width="20.60" height="166.10" fill="#A9A9A9"/>
<rect x="550.40" y="292.50" width="20.60" height="166.10" fill="#808080"/>
<line x1="376.70" y1="315.30" x2="376.70" y2="324.40" stroke="#000" stroke-width="0.9"/>
<line x1="371.40" y1="315.30" x2="382.00" y2="315.30" stroke="#000" stroke-width="0.9"/>
<line x1="371.40" y1="324.40" x2="382.00" y2="324.40" stroke="#000" stroke-width="0.9"/>
<line x1="399.70" y1="337.20" x2="399.70" y2="347.00" stroke="#000" stroke-width="0.9"/>
<line x1="394.40" y1="337.20" x2="405.00" y2="337.20" stroke="#000" stroke-width="0.9"/>
<line x1="394.40" y1="347.00" x2="405.00" y2="347.00" stroke="#000" stroke-width="0.9"/>
<line x1="422.70" y1="330.40" x2="422.70" y2="339.40" stroke="#000" stroke-width="0.9"/>
<line x1="417.40" y1="330.40" x2="428.00" y2="330.40" stroke="#000" stroke-width="0.9"/>
<line x1="417.40" y1="339.40" x2="428.00" y2="339.40" stroke="#000" stroke-width="0.9"/>
<line x1="445.70" y1="324.60" x2="445.70" y2="334.40" stroke="#000" stroke-width="0.9"/>
<line x1="440.40" y1="324.60" x2="451.00" y2="324.60" stroke="#000" stroke-width="0.9"/>
<line x1="440.40" y1="334.40" x2="451.00" y2="334.40" stroke="#000" stroke-width="0.9"/>
<line x1="468.70" y1="320.90" x2="468.70" y2="330.40" stroke="#000" stroke-width="0.9"/>
<line x1="463.40" y1="320.90" x2="474.00" y2="320.90" stroke="#000" stroke-width="0.9"/>
<line x1="463.40" y1="330.40" x2="474.00" y2="330.40" stroke="#000" stroke-width="0.9"/>
<line x1="491.70" y1="334.50" x2="491.70" y2="342.30" stroke="#000" stroke-width="0.9"/>
<line x1="486.40" y1="334.50" x2="497.00" y2="334.50" stroke="#000" stroke-width="0.9"/>
<line x1="486.40" y1="342.30" x2="497.00" y2="342.30" stroke="#000" stroke-width="0.9"/>
<line x1="514.70" y1="324.50" x2="514.70" y2="332.30" stroke="#000" stroke-width="0.9"/>
<line x1="509.40" y1="324.50" x2="520.00" y2="324.50" stroke="#000" stroke-width="0.9"/>
<line x1="509.40" y1="332.30" x2="520.00" y2="332.30" stroke="#000" stroke-width="0.9"/>
<line x1="537.70" y1="289.20" x2="537.70" y2="295.50" stroke="#000" stroke-width="0.9"/>
<line x1="532.40" y1="289.20" x2="543.00" y2="289.20" stroke="#000" stroke-width="0.9"/>
<line x1="532.40" y1="295.50" x2="543.00" y2="295.50" stroke="#000" stroke-width="0.9"/>
<line x1="560.70" y1="287.70" x2="560.70" y2="296.70" stroke="#000" stroke-width="0.9"/>
<line x1="555.40" y1="287.70" x2="566.00" y2="287.70" stroke="#000" stroke-width="0.9"/>
<line x1="555.40" y1="296.70" x2="566.00" y2="296.70" stroke="#000" stroke-width="0.9"/>
<line x1="362.50" y1="343.85" x2="575.00" y2="343.85" stroke="#000" stroke-width="0.8" stroke-dasharray="2.4,1.5"/>
<text transform="translate(376.90,473.60) rotate(-45)" font-size="8" fill="#4d4d4d" stroke="#4d4d4d" stroke-width="0.18" text-anchor="end">Influence</text>
<text transform="translate(399.90,473.60) rotate(-45)" font-size="8" fill="#4d4d4d" stroke="#4d4d4d" stroke-width="0.18" text-anchor="end">Log-Ratio</text>
<text transform="translate(422.90,473.60) rotate(-45)" font-size="8" fill="#4d4d4d" stroke="#4d4d4d" stroke-width="0.18" text-anchor="end">PhyloP</text>
<text transform="translate(445.90,473.60) rotate(-45)" font-size="8" fill="#4d4d4d" stroke="#4d4d4d" stroke-width="0.18" text-anchor="end">PhyloP447</text>
<text transform="translate(468.90,473.60) rotate(-45)" font-size="8" fill="#4d4d4d" stroke="#4d4d4d" stroke-width="0.18" text-anchor="end">PhyloP470</text>
<text transform="translate(491.90,473.60) rotate(-45)" font-size="8" fill="#4d4d4d" stroke="#4d4d4d" stroke-width="0.18" text-anchor="end">PhastCons</text>
<text transform="translate(514.90,473.60) rotate(-45)" font-size="8" fill="#4d4d4d" stroke="#4d4d4d" stroke-width="0.18" text-anchor="end">PhastCons470</text>
<text transform="translate(537.90,473.60) rotate(-45)" font-size="8" fill="#4d4d4d" stroke="#4d4d4d" stroke-width="0.18" text-anchor="end">Borzoi</text>
<g transform="translate(556.70,473.30) rotate(-45)">
<text font-size="8" fill="#4d4d4d" stroke="#4d4d4d" stroke-width="0.18" text-anchor="end" x="0" y="0">Influence &amp; Borzoi</text>
<text font-size="8" fill="#4d4d4d" stroke="#4d4d4d" stroke-width="0.18" text-anchor="end" x="0" y="7.4">(5-fold CV)</text>
</g>
<text transform="translate(342.90,372.60) rotate(-90)" font-size="9.4" fill="#000" stroke="#000" stroke-width="0.18" text-anchor="middle">AUROC fine-mapped vs non-fine-mapped</text>
<rect x="578.70" y="345.90" width="12.00" height="12.00" fill="#4682B4"/>
<text x="593.40" y="354.00" font-size="8" fill="#000" stroke="#000" stroke-width="0.18" text-anchor="start">Conservation</text>
<rect x="578.70" y="359.75" width="12.00" height="12.00" fill="#DC143C"/>
<text x="593.40" y="367.85" font-size="8" fill="#000" stroke="#000" stroke-width="0.18" text-anchor="start">DNA-LM (Dependency)</text>
<rect x="578.70" y="373.60" width="12.00" height="12.00" fill="#FA8072"/>
<text x="593.40" y="381.70" font-size="8" fill="#000" stroke="#000" stroke-width="0.18" text-anchor="start">DNA-LM (Reconstruction)</text>
<rect x="578.70" y="387.45" width="12.00" height="12.00" fill="#808080"/>
<text x="593.40" y="395.55" font-size="8" fill="#000" stroke="#000" stroke-width="0.18" text-anchor="start">Ensemble</text>
<rect x="578.70" y="401.30" width="12.00" height="12.00" fill="#A9A9A9"/>
<text x="593.40" y="409.40" font-size="8" fill="#000" stroke="#000" stroke-width="0.18" text-anchor="start">Supervised</text>
<line x1="30.00" y1="733.29" x2="327.00" y2="733.29" stroke="#f3f3f3" stroke-width="0.5"/>
<line x1="30.00" y1="687.87" x2="327.00" y2="687.87" stroke="#f3f3f3" stroke-width="0.5"/>
<line x1="30.00" y1="664.80" x2="327.00" y2="664.80" stroke="#f3f3f3" stroke-width="0.5"/>
<line x1="30.00" y1="648.43" x2="327.00" y2="648.43" stroke="#f3f3f3" stroke-width="0.5"/>
<line x1="30.00" y1="635.73" x2="327.00" y2="635.73" stroke="#f3f3f3" stroke-width="0.5"/>
<line x1="30.00" y1="625.36" x2="327.00" y2="625.36" stroke="#f3f3f3" stroke-width="0.5"/>
<line x1="30.00" y1="616.59" x2="327.00" y2="616.59" stroke="#f3f3f3" stroke-width="0.5"/>
<line x1="30.00" y1="609.00" x2="327.00" y2="609.00" stroke="#f3f3f3" stroke-width="0.5"/>
<line x1="30.00" y1="602.29" x2="327.00" y2="602.29" stroke="#f3f3f3" stroke-width="0.5"/>
<line x1="30.00" y1="556.87" x2="327.00" y2="556.87" stroke="#f3f3f3" stroke-width="0.5"/>
<line x1="30.00" y1="533.80" x2="327.00" y2="533.80" stroke="#f3f3f3" stroke-width="0.5"/>
<line x1="30.00" y1="533.60" x2="327.00" y2="533.60" stroke="#e9e9e9" stroke-width="0.65"/>
<text x="28.60" y="535.70" font-size="8" fill="#4d4d4d" stroke="#4d4d4d" stroke-width="0.18" text-anchor="end">0.3</text>
<line x1="30.00" y1="596.30" x2="327.00" y2="596.30" stroke="#e9e9e9" stroke-width="0.65"/>
<text x="28.60" y="598.40" font-size="8" fill="#4d4d4d" stroke="#4d4d4d" stroke-width="0.18" text-anchor="end">0.1</text>
<line x1="30.00" y1="664.70" x2="327.00" y2="664.70" stroke="#e9e9e9" stroke-width="0.65"/>
<text x="28.60" y="666.80" font-size="8" fill="#4d4d4d" stroke="#4d4d4d" stroke-width="0.18" text-anchor="end">0.03</text>
<line x1="30.00" y1="727.30" x2="327.00" y2="727.30" stroke="#e9e9e9" stroke-width="0.65"/>
<text x="28.60" y="729.40" font-size="8" fill="#4d4d4d" stroke="#4d4d4d" stroke-width="0.18" text-anchor="end">0.01</text>
<line x1="111.80" y1="527.00" x2="111.80" y2="734.50" stroke="#e9e9e9" stroke-width="0.65"/>
<line x1="246.10" y1="527.00" x2="246.10" y2="734.50" stroke="#e9e9e9" stroke-width="0.65"/>
<text transform="translate(8.20,634.00) rotate(-90)" font-size="9.3" fill="#000" stroke="#000" stroke-width="0.18" text-anchor="middle">Influence score</text>
<path d="M111.80,537.20 L111.77,539.17 L111.71,541.92 L111.66,545.16 L111.60,548.61 L111.54,551.99 L111.50,555.00 L111.47,557.72 L111.45,560.39 L111.44,562.99 L111.43,565.47 L111.42,567.82 L111.40,570.00 L111.38,571.86 L111.36,573.40 L111.33,574.80 L111.31,576.24 L111.28,577.91 L111.25,580.00 L111.23,582.67 L111.20,585.81 L111.17,589.18 L111.15,592.54 L111.11,595.64 L111.07,598.25 L111.02,600.30 L110.97,601.97 L110.91,603.38 L110.85,604.67 L110.78,605.96 L110.71,607.37 L110.63,608.89 L110.55,610.41 L110.47,611.93 L110.37,613.45 L110.27,614.98 L110.16,616.50 L110.04,618.02 L109.93,619.54 L109.82,621.06 L109.67,622.58 L109.49,624.10 L109.25,625.62 L108.93,627.18 L108.56,628.80 L108.15,630.41 L107.72,631.97 L107.29,633.44 L106.87,634.74 L106.48,635.89 L106.10,636.91 L105.71,637.82 L105.32,638.66 L104.92,639.45 L104.50,640.22 L104.08,640.91 L103.65,641.50 L103.21,642.04 L102.76,642.58 L102.28,643.18 L101.76,643.87 L101.20,644.70 L100.58,645.63 L99.94,646.61 L99.30,647.59 L98.68,648.52 L98.11,649.34 L97.64,650.06 L97.24,650.69 L96.86,651.28 L96.46,651.84 L95.98,652.41 L95.38,652.99 L94.64,653.60 L93.82,654.21 L92.92,654.82 L91.96,655.43 L90.95,656.03 L89.90,656.64 L88.79,657.25 L87.60,657.86 L86.37,658.47 L85.10,659.08 L83.84,659.68 L82.60,660.29 L81.39,660.90 L80.17,661.51 L78.95,662.12 L77.74,662.73 L76.52,663.33 L75.30,663.94 L74.08,664.55 L72.84,665.16 L71.60,665.77 L70.37,666.37 L69.17,666.98 L68.00,667.59 L66.88,668.20 L65.77,668.81 L64.70,669.42 L63.65,670.02 L62.62,670.63 L61.62,671.24 L60.61,671.87 L59.60,672.53 L58.62,673.18 L57.69,673.81 L56.85,674.39 L56.14,674.89 L55.59,675.30 L55.16,675.65 L54.83,675.94 L54.55,676.20 L54.27,676.45 L53.95,676.72 L53.60,676.98 L53.23,677.24 L52.87,677.49 L52.53,677.73 L52.22,677.96 L51.95,678.18 L51.72,678.38 L51.54,678.57 L51.38,678.76 L51.25,678.93 L51.14,679.10 L51.03,679.27 L50.94,679.43 L50.87,679.59 L50.82,679.74 L50.79,679.89 L50.77,680.03 L50.76,680.18 L50.76,680.33 L50.78,680.48 L50.81,680.63 L50.86,680.78 L50.93,680.93 L51.03,681.09 L51.16,681.26 L51.30,681.44 L51.47,681.62 L51.67,681.80 L51.88,681.99 L52.13,682.19 L52.39,682.38 L52.66,682.56 L52.96,682.75 L53.30,682.95 L53.69,683.19 L54.14,683.47 L54.64,683.78 L55.18,684.13 L55.78,684.51 L56.43,684.91 L57.16,685.36 L57.97,685.84 L58.86,686.36 L59.84,686.93 L60.89,687.53 L62.00,688.16 L63.16,688.81 L64.35,689.49 L65.61,690.20 L66.92,690.94 L68.29,691.71 L69.69,692.50 L71.12,693.28 L72.57,694.05 L74.06,694.81 L75.61,695.57 L77.19,696.33 L78.75,697.09 L80.26,697.85 L81.69,698.61 L83.02,699.37 L84.29,700.13 L85.51,700.89 L86.69,701.65 L87.85,702.41 L88.99,703.18 L90.11,703.94 L91.19,704.70 L92.24,705.46 L93.28,706.22 L94.32,706.98 L95.38,707.74 L96.45,708.50 L97.54,709.26 L98.63,710.02 L99.70,710.78 L100.75,711.54 L101.76,712.30 L102.76,713.07 L103.76,713.85 L104.73,714.64 L105.65,715.41 L106.49,716.15 L107.24,716.86 L107.88,717.52 L108.43,718.15 L108.90,718.74 L109.31,719.33 L109.67,719.91 L109.98,720.51 L110.22,721.12 L110.38,721.74 L110.48,722.36 L110.56,722.97 L110.62,723.57 L110.71,724.16 L110.79,724.76 L110.87,725.37 L110.94,725.97 L111.01,726.54 L111.08,727.04 L111.16,727.45 L111.26,727.75 L111.38,727.96 L111.51,728.11 L111.63,728.21 L111.73,728.29 L111.80,728.36 L111.80,728.36 L111.87,728.29 L111.97,728.21 L112.09,728.11 L112.22,727.96 L112.34,727.75 L112.44,727.45 L112.52,727.04 L112.59,726.54 L112.66,725.97 L112.73,725.37 L112.81,724.76 L112.89,724.16 L112.98,723.57 L113.04,722.97 L113.12,722.36 L113.22,721.74 L113.38,721.12 L113.62,720.51 L113.93,719.91 L114.29,719.33 L114.70,718.74 L115.17,718.15 L115.72,717.52 L116.36,716.86 L117.11,716.15 L117.95,715.41 L118.87,714.64 L119.84,713.85 L120.84,713.07 L121.84,712.30 L122.85,711.54 L123.90,710.78 L124.97,710.02 L126.06,709.26 L127.15,708.50 L128.22,707.74 L129.28,706.98 L130.32,706.22 L131.36,705.46 L132.41,704.70 L133.49,703.94 L134.61,703.18 L135.75,702.41 L136.91,701.65 L138.09,700.89 L139.31,700.13 L140.58,699.37 L141.91,698.61 L143.34,697.85 L144.85,697.09 L146.41,696.33 L147.99,695.57 L149.54,694.81 L151.03,694.05 L152.48,693.28 L153.91,692.50 L155.31,691.71 L156.68,690.94 L157.99,690.20 L159.25,689.49 L160.44,688.81 L161.60,688.16 L162.71,687.53 L163.76,686.93 L164.74,686.36 L165.63,685.84 L166.44,685.36 L167.17,684.91 L167.82,684.51 L168.42,684.13 L168.96,683.78 L169.46,683.47 L169.91,683.19 L170.30,682.95 L170.64,682.75 L170.94,682.56 L171.21,682.38 L171.47,682.19 L171.72,681.99 L171.93,681.80 L172.13,681.62 L172.30,681.44 L172.44,681.26 L172.57,681.09 L172.67,680.93 L172.74,680.78 L172.79,680.63 L172.82,680.48 L172.84,680.33 L172.84,680.18 L172.83,680.03 L172.81,679.89 L172.78,679.74 L172.73,679.59 L172.66,679.43 L172.57,679.27 L172.46,679.10 L172.35,678.93 L172.22,678.76 L172.06,678.57 L171.88,678.38 L171.65,678.18 L171.38,677.96 L171.07,677.73 L170.73,677.49 L170.37,677.24 L170.00,676.98 L169.65,676.72 L169.33,676.45 L169.05,676.20 L168.77,675.94 L168.44,675.65 L168.01,675.30 L167.46,674.89 L166.75,674.39 L165.91,673.81 L164.98,673.18 L164.00,672.53 L162.99,671.87 L161.98,671.24 L160.98,670.63 L159.95,670.02 L158.90,669.42 L157.83,668.81 L156.72,668.20 L155.60,667.59 L154.43,666.98 L153.23,666.37 L152.00,665.77 L150.76,665.16 L149.52,664.55 L148.30,663.94 L147.08,663.33 L145.86,662.73 L144.65,662.12 L143.43,661.51 L142.21,660.90 L141.00,660.29 L139.76,659.68 L138.50,659.08 L137.23,658.47 L136.00,657.86 L134.81,657.25 L133.70,656.64 L132.65,656.03 L131.64,655.43 L130.68,654.82 L129.78,654.21 L128.96,653.60 L128.22,652.99 L127.62,652.41 L127.14,651.84 L126.74,651.28 L126.36,650.69 L125.96,650.06 L125.49,649.34 L124.92,648.52 L124.30,647.59 L123.66,646.61 L123.02,645.63 L122.40,644.70 L121.84,643.87 L121.32,643.18 L120.84,642.58 L120.39,642.04 L119.95,641.50 L119.52,640.91 L119.10,640.22 L118.68,639.45 L118.28,638.66 L117.89,637.82 L117.50,636.91 L117.12,635.89 L116.73,634.74 L116.31,633.44 L115.88,631.97 L115.45,630.41 L115.04,628.80 L114.67,627.18 L114.35,625.62 L114.11,624.10 L113.93,622.58 L113.78,621.06 L113.67,619.54 L113.56,618.02 L113.44,616.50 L113.33,614.98 L113.23,613.45 L113.13,611.93 L113.05,610.41 L112.97,608.89 L112.89,607.37 L112.82,605.96 L112.75,604.67 L112.69,603.38 L112.63,601.97 L112.58,600.30 L112.53,598.25 L112.49,595.64 L112.45,592.54 L112.43,589.18 L112.40,585.81 L112.37,582.67 L112.35,580.00 L112.32,577.91 L112.29,576.24 L112.27,574.80 L112.24,573.40 L112.22,571.86 L112.20,570.00 L112.18,567.82 L112.17,565.47 L112.16,562.99 L112.15,560.39 L112.13,557.72 L112.10,555.00 L112.06,551.99 L112.00,548.61 L111.94,545.16 L111.89,541.92 L111.83,539.17 L111.80,537.20Z" fill="#4682B4" stroke="#2b2b2b" stroke-width="0.9" stroke-linejoin="round"/>
<line x1="111.80" y1="635.00" x2="111.80" y2="667.70" stroke="#2b2b2b" stroke-width="0.7"/>
<line x1="111.80" y1="688.30" x2="111.80" y2="727.00" stroke="#2b2b2b" stroke-width="0.7"/>
<rect x="95.00" y="667.70" width="33.60" height="20.60" fill="#fff" stroke="#2b2b2b" stroke-width="0.8"/>
<line x1="95.00" y1="678.30" x2="128.60" y2="678.30" stroke="#222" stroke-width="1.35"/>
<path d="M246.10,600.05 L246.00,600.54 L245.88,601.17 L245.72,601.93 L245.54,602.84 L245.33,603.89 L245.09,605.08 L244.82,606.46 L244.52,608.05 L244.18,609.79 L243.83,611.59 L243.46,613.39 L243.08,615.13 L242.70,616.83 L242.31,618.57 L241.91,620.31 L241.48,622.01 L241.04,623.65 L240.57,625.18 L240.09,626.61 L239.60,627.97 L239.10,629.26 L238.55,630.48 L237.96,631.63 L237.31,632.71 L236.60,633.70 L235.85,634.57 L235.06,635.38 L234.21,636.16 L233.28,636.93 L232.28,637.74 L231.18,638.58 L230.00,639.41 L228.75,640.25 L227.44,641.09 L226.10,641.93 L224.74,642.76 L223.34,643.60 L221.86,644.44 L220.35,645.28 L218.83,646.11 L217.36,646.95 L215.95,647.79 L214.58,648.64 L213.20,649.51 L211.87,650.38 L210.60,651.23 L209.44,652.05 L208.41,652.81 L207.54,653.51 L206.78,654.16 L206.13,654.78 L205.57,655.37 L205.08,655.97 L204.64,656.58 L204.28,657.20 L204.02,657.79 L203.83,658.39 L203.67,659.00 L203.54,659.65 L203.39,660.35 L203.24,661.12 L203.14,661.93 L203.04,662.79 L202.94,663.66 L202.81,664.52 L202.63,665.38 L202.40,666.21 L202.12,667.05 L201.82,667.89 L201.50,668.73 L201.18,669.56 L200.87,670.40 L200.55,671.25 L200.19,672.12 L199.82,672.99 L199.50,673.85 L199.25,674.66 L199.12,675.43 L199.08,676.11 L199.12,676.73 L199.22,677.31 L199.42,677.89 L199.72,678.51 L200.12,679.20 L200.62,679.95 L201.21,680.73 L201.89,681.55 L202.69,682.41 L203.60,683.30 L204.64,684.22 L205.83,685.18 L207.16,686.18 L208.62,687.20 L210.16,688.27 L211.78,689.37 L213.44,690.50 L215.19,691.70 L217.07,692.97 L219.01,694.27 L220.97,695.57 L222.90,696.84 L224.74,698.04 L226.53,699.17 L228.33,700.27 L230.08,701.34 L231.77,702.37 L233.35,703.36 L234.79,704.32 L236.10,705.23 L237.31,706.09 L238.41,706.91 L239.40,707.72 L240.29,708.52 L241.07,709.35 L241.73,710.20 L242.26,711.09 L242.68,711.97 L243.03,712.83 L243.32,713.64 L243.59,714.37 L243.80,715.03 L243.95,715.64 L244.03,716.19 L244.09,716.71 L244.15,717.19 L244.22,717.64 L244.29,718.06 L244.35,718.44 L244.40,718.78 L244.46,719.10 L244.52,719.39 L244.59,719.65 L244.68,719.88 L244.77,720.08 L244.88,720.25 L244.98,720.40 L245.10,720.53 L245.22,720.65 L245.36,720.76 L245.53,720.84 L245.70,720.90 L245.86,720.96 L246.00,721.00 L246.10,721.03 L246.10,721.03 L246.20,721.00 L246.34,720.96 L246.50,720.90 L246.67,720.84 L246.84,720.76 L246.98,720.65 L247.10,720.53 L247.22,720.40 L247.32,720.25 L247.43,720.08 L247.52,719.88 L247.61,719.65 L247.68,719.39 L247.74,719.10 L247.80,718.78 L247.85,718.44 L247.91,718.06 L247.98,717.64 L248.05,717.19 L248.11,716.71 L248.17,716.19 L248.25,715.64 L248.40,715.03 L248.61,714.37 L248.88,713.64 L249.17,712.83 L249.52,711.97 L249.94,711.09 L250.47,710.20 L251.13,709.35 L251.91,708.52 L252.80,707.72 L253.79,706.91 L254.89,706.09 L256.10,705.23 L257.41,704.32 L258.85,703.36 L260.43,702.37 L262.12,701.34 L263.87,700.27 L265.67,699.17 L267.46,698.04 L269.30,696.84 L271.23,695.57 L273.19,694.27 L275.13,692.97 L277.01,691.70 L278.76,690.50 L280.42,689.37 L282.04,688.27 L283.58,687.20 L285.04,686.18 L286.37,685.18 L287.56,684.22 L288.60,683.30 L289.51,682.41 L290.31,681.55 L290.99,680.73 L291.58,679.95 L292.08,679.20 L292.48,678.51 L292.78,677.89 L292.98,677.31 L293.08,676.73 L293.12,676.11 L293.08,675.43 L292.95,674.66 L292.70,673.85 L292.38,672.99 L292.01,672.12 L291.65,671.25 L291.33,670.40 L291.02,669.56 L290.70,668.73 L290.38,667.89 L290.08,667.05 L289.80,666.21 L289.57,665.38 L289.39,664.52 L289.26,663.66 L289.16,662.79 L289.06,661.93 L288.96,661.12 L288.81,660.35 L288.66,659.65 L288.53,659.00 L288.37,658.39 L288.18,657.79 L287.92,657.20 L287.56,656.58 L287.12,655.97 L286.63,655.37 L286.07,654.78 L285.42,654.16 L284.66,653.51 L283.79,652.81 L282.76,652.05 L281.60,651.23 L280.33,650.38 L279.00,649.51 L277.62,648.64 L276.25,647.79 L274.84,646.95 L273.37,646.11 L271.85,645.28 L270.34,644.44 L268.86,643.60 L267.46,642.76 L266.10,641.93 L264.76,641.09 L263.45,640.25 L262.20,639.41 L261.02,638.58 L259.92,637.74 L258.92,636.93 L257.99,636.16 L257.14,635.38 L256.35,634.57 L255.60,633.70 L254.89,632.71 L254.24,631.63 L253.65,630.48 L253.10,629.26 L252.60,627.97 L252.11,626.61 L251.63,625.18 L251.16,623.65 L250.72,622.01 L250.29,620.31 L249.89,618.57 L249.50,616.83 L249.12,615.13 L248.74,613.39 L248.37,611.59 L248.02,609.79 L247.68,608.05 L247.38,606.46 L247.11,605.08 L246.87,603.89 L246.66,602.84 L246.48,601.93 L246.32,601.17 L246.20,600.54 L246.10,600.05Z" fill="#4682B4" stroke="#2b2b2b" stroke-width="0.9" stroke-linejoin="round"/>
<line x1="246.10" y1="620.00" x2="246.10" y2="656.40" stroke="#2b2b2b" stroke-width="0.7"/>
<line x1="246.10" y1="682.00" x2="246.10" y2="719.00" stroke="#2b2b2b" stroke-width="0.7"/>
<rect x="229.80" y="656.40" width="33.20" height="25.60" fill="#fff" stroke="#2b2b2b" stroke-width="0.8"/>
<line x1="229.80" y1="670.00" x2="263.00" y2="670.00" stroke="#222" stroke-width="1.35"/>
<text x="111.60" y="746.50" font-size="8" fill="#4d4d4d" stroke="#4d4d4d" stroke-width="0.18" text-anchor="middle">Putative non-causal (P-value &gt; 0.2)</text>
<text x="111.80" y="754.50" font-size="8" fill="#4d4d4d" stroke="#4d4d4d" stroke-width="0.18" text-anchor="middle">(N=2677)</text>
<text x="248.40" y="746.50" font-size="8" fill="#4d4d4d" stroke="#4d4d4d" stroke-width="0.18" text-anchor="middle">Putative causal (FDR &lt; 0.05)</text>
<text x="248.30" y="754.50" font-size="8" fill="#4d4d4d" stroke="#4d4d4d" stroke-width="0.18" text-anchor="middle">(N=379)</text>
<line x1="368.00" y1="570.00" x2="552.00" y2="570.00" stroke="#e9e9e9" stroke-width="0.65"/>
<text x="366.00" y="572.90" font-size="8" fill="#4d4d4d" stroke="#4d4d4d" stroke-width="0.18" text-anchor="end">0.6</text>
<line x1="368.00" y1="620.00" x2="552.00" y2="620.00" stroke="#e9e9e9" stroke-width="0.65"/>
<text x="366.00" y="622.90" font-size="8" fill="#4d4d4d" stroke="#4d4d4d" stroke-width="0.18" text-anchor="end">0.4</text>
<line x1="368.00" y1="670.00" x2="552.00" y2="670.00" stroke="#e9e9e9" stroke-width="0.65"/>
<text x="366.00" y="672.90" font-size="8" fill="#4d4d4d" stroke="#4d4d4d" stroke-width="0.18" text-anchor="end">0.2</text>
<line x1="368.00" y1="720.00" x2="552.00" y2="720.00" stroke="#e9e9e9" stroke-width="0.65"/>
<text x="366.00" y="722.90" font-size="8" fill="#4d4d4d" stroke="#4d4d4d" stroke-width="0.18" text-anchor="end">0</text>
<line x1="402.00" y1="545.00" x2="402.00" y2="729.00" stroke="#e9e9e9" stroke-width="0.65"/>
<line x1="459.50" y1="545.00" x2="459.50" y2="729.00" stroke="#e9e9e9" stroke-width="0.65"/>
<line x1="517.00" y1="545.00" x2="517.00" y2="729.00" stroke="#e9e9e9" stroke-width="0.65"/>
<rect x="376.10" y="562.20" width="51.80" height="157.80" fill="#DC143C"/>
<rect x="433.60" y="592.60" width="51.80" height="127.40" fill="#FA8072"/>
<rect x="491.10" y="576.80" width="51.80" height="143.20" fill="#4682B4"/>
<line x1="402.00" y1="554.30" x2="402.00" y2="570.40" stroke="#000" stroke-width="0.9"/>
<line x1="388.00" y1="554.30" x2="416.00" y2="554.30" stroke="#000" stroke-width="0.9"/>
<line x1="388.00" y1="570.40" x2="416.00" y2="570.40" stroke="#000" stroke-width="0.9"/>
<line x1="459.50" y1="584.00" x2="459.50" y2="601.00" stroke="#000" stroke-width="0.9"/>
<line x1="445.50" y1="584.00" x2="473.50" y2="584.00" stroke="#000" stroke-width="0.9"/>
<line x1="445.50" y1="601.00" x2="473.50" y2="601.00" stroke="#000" stroke-width="0.9"/>
<line x1="517.00" y1="568.60" x2="517.00" y2="585.00" stroke="#000" stroke-width="0.9"/>
<line x1="503.00" y1="568.60" x2="531.00" y2="568.60" stroke="#000" stroke-width="0.9"/>
<line x1="503.00" y1="585.00" x2="531.00" y2="585.00" stroke="#000" stroke-width="0.9"/>
<line x1="368.00" y1="595.00" x2="553.00" y2="595.00" stroke="#000" stroke-width="0.8" stroke-dasharray="2.4,1.5"/>
<text transform="translate(402.20,735.00) rotate(-45)" font-size="8" fill="#4d4d4d" stroke="#4d4d4d" stroke-width="0.18" text-anchor="end">Influence</text>
<text transform="translate(459.70,735.00) rotate(-45)" font-size="8" fill="#4d4d4d" stroke="#4d4d4d" stroke-width="0.18" text-anchor="end">Log-Ratio</text>
<text transform="translate(517.20,735.00) rotate(-45)" font-size="8" fill="#4d4d4d" stroke="#4d4d4d" stroke-width="0.18" text-anchor="end">PhastCons</text>
<text transform="translate(349.00,638.90) rotate(-90)" font-size="9.4" fill="#000" stroke="#000" stroke-width="0.18" text-anchor="middle">AUROC putative causal vs non-causal</text>
<rect x="561.00" y="625.30" width="10.30" height="10.30" fill="#4682B4"/>
<text x="573.60" y="632.55" font-size="8" fill="#000" stroke="#000" stroke-width="0.18" text-anchor="start">Conservation</text>
<rect x="561.00" y="637.30" width="10.30" height="10.30" fill="#DC143C"/>
<text x="573.60" y="644.55" font-size="8" fill="#000" stroke="#000" stroke-width="0.18" text-anchor="start">DNA-LM (Dependency)</text>
<rect x="561.00" y="649.30" width="10.30" height="10.30" fill="#FA8072"/>
<text x="573.60" y="656.55" font-size="8" fill="#000" stroke="#000" stroke-width="0.18" text-anchor="start">DNA-LM (Reconstruction)</text>
<line x1="41.00" y1="813.60" x2="317.50" y2="813.60" stroke="#dedede" stroke-width="0.65"/>
<text x="37.50" y="816.50" font-size="8" fill="#000" stroke="#000" stroke-width="0.18" text-anchor="end">1</text>
<line x1="41.00" y1="901.50" x2="317.50" y2="901.50" stroke="#dedede" stroke-width="0.65"/>
<text x="37.50" y="904.40" font-size="8" fill="#000" stroke="#000" stroke-width="0.18" text-anchor="end">0.9</text>
<line x1="92.50" y1="807.00" x2="92.50" y2="956.80" stroke="#dedede" stroke-width="0.65"/>
<line x1="179.50" y1="807.00" x2="179.50" y2="956.80" stroke="#dedede" stroke-width="0.65"/>
<line x1="266.00" y1="807.00" x2="266.00" y2="956.80" stroke="#dedede" stroke-width="0.65"/>
<text x="77.40" y="797.20" font-size="9.4" fill="#000" stroke="#000" stroke-width="0.18" text-anchor="start">S. cerevisiae tRNA secondary structure prediction</text>
<text transform="translate(19.30,882.60) rotate(-90)" font-size="9.3" fill="#000" stroke="#000" stroke-width="0.18" text-anchor="middle">AUROC</text>
<line x1="92.50" y1="829.00" x2="92.50" y2="853.50" stroke="#222" stroke-width="0.9"/>
<line x1="92.50" y1="880.00" x2="92.50" y2="917.80" stroke="#222" stroke-width="0.9"/>
<rect x="59.80" y="853.50" width="65.80" height="26.30" fill="#006400" stroke="#333" stroke-width="0.7"/>
<line x1="59.80" y1="864.80" x2="125.60" y2="864.80" stroke="#333" stroke-width="1.3"/>
<circle cx="92.6" cy="930.9" r="2.05" fill="#333"/>
<circle cx="92.6" cy="950.5" r="2.05" fill="#333"/>
<line x1="179.50" y1="822.50" x2="179.50" y2="830.00" stroke="#222" stroke-width="0.9"/>
<rect x="146.30" y="815.60" width="65.90" height="6.90" fill="#4682B4" stroke="#333" stroke-width="0.7"/>
<line x1="146.30" y1="817.00" x2="212.20" y2="817.00" stroke="#333" stroke-width="1.5"/>
<circle cx="179.4" cy="834.7" r="2.05" fill="#333"/>
<circle cx="179.4" cy="837.3" r="2.05" fill="#333"/>
<circle cx="179.4" cy="840.2" r="2.05" fill="#333"/>
<circle cx="179.4" cy="842.5" r="2.05" fill="#333"/>
<circle cx="179.4" cy="849.2" r="2.05" fill="#333"/>
<line x1="266.00" y1="820.30" x2="266.00" y2="827.00" stroke="#222" stroke-width="0.9"/>
<rect x="233.00" y="814.00" width="65.80" height="6.30" fill="#FF0000" stroke="#333" stroke-width="0.7"/>
<circle cx="266" cy="829.8" r="2.05" fill="#333"/>
<circle cx="266" cy="838.5" r="2.05" fill="#333"/>
<circle cx="266" cy="843.2" r="2.05" fill="#333"/>
<circle cx="266" cy="845.4" r="2.05" fill="#333"/>
<text x="93.00" y="968.90" font-size="8" fill="#000" stroke="#000" stroke-width="0.18" text-anchor="middle">Gradient-based</text>
<text x="93.00" y="977.60" font-size="8" fill="#000" stroke="#000" stroke-width="0.18" text-anchor="middle">(N=172)</text>
<text x="179.80" y="968.90" font-size="8" fill="#000" stroke="#000" stroke-width="0.18" text-anchor="middle">Mask-based</text>
<text x="179.80" y="977.60" font-size="8" fill="#000" stroke="#000" stroke-width="0.18" text-anchor="middle">(N=172)</text>
<text x="265.50" y="968.90" font-size="8" fill="#000" stroke="#000" stroke-width="0.18" text-anchor="middle">Substitution-based</text>
<text x="265.50" y="977.60" font-size="8" fill="#000" stroke="#000" stroke-width="0.18" text-anchor="middle">(N=172)</text>
<polyline points="402.0,807.9 456.3,807.9 456.3,810.4 471.7,810.4 471.7,812.9 490.0,812.0 510.0,811.4 514.8,811.2 514.8,812.6 539.4,811.8 539.4,812.9 565.5,812.3 568.8,815.4 574.7,817.3 581.4,818.8 583.9,824.3 587.3,826.9 588.4,828.1 589.0,833.6 588.9,842.0 588.4,855.4 591.0,862.0 591.4,905.5 592.0,917.3 593.6,926.2 596.5,936.0 601.0,942.4 603.0,950.0" fill="none" stroke="#e8242a" stroke-width="1.2" stroke-linejoin="round"/>
<polyline points="402.0,807.9 442.5,807.9 442.5,811.4 461.8,811.6 461.8,814.3 464.7,814.3 464.7,816.0 475.0,815.3 488.0,814.3 488.0,815.6 500.0,815.2 517.6,814.3 517.6,815.1 535.0,814.4 552.0,813.8 552.0,814.6 565.5,814.1 568.8,816.2 574.7,819.0 581.4,821.0 583.3,822.2 583.9,826.0 587.3,830.0 587.7,831.8 591.4,842.1 591.4,857.0 591.8,890.8 591.4,905.5 594.3,918.0 596.5,918.8 596.5,929.0 599.5,932.0 601.7,938.0 603.2,946.8 603.6,952.0" fill="none" stroke="#5b94c4" stroke-width="1.2" stroke-linejoin="round"/>
<polyline points="402.0,807.9 421.0,807.9 421.0,816.8 425.0,815.3 430.0,814.2 438.0,813.0 446.2,812.1 446.2,815.4 452.9,815.0 452.9,818.0 463.0,817.5 463.0,819.0 470.0,818.2 481.5,816.8 481.5,818.5 500.0,816.8 512.0,816.3 512.0,817.6 517.6,817.6 517.6,820.1 520.0,820.1 520.0,822.3 527.7,822.3 527.7,823.2 537.0,822.0 547.8,821.0 547.8,821.8 557.0,821.3 557.0,822.3 566.3,822.0 566.3,823.2 573.9,823.2 573.9,826.0 575.9,826.6 578.9,828.5 581.8,831.0 583.1,831.9 587.0,836.2 589.0,840.0 589.9,843.6 591.8,855.4 591.8,889.3 593.9,892.3 593.9,914.4 595.0,926.2 596.5,936.5 598.8,939.5 600.2,946.8 603.2,949.8 603.6,952.7" fill="none" stroke="#157a1e" stroke-width="1.4" stroke-linejoin="round"/>
<rect x="392.70" y="800.30" width="221.10" height="159.10" fill="none" stroke="#222" stroke-width="0.8"/>
<line x1="390.10" y1="808.50" x2="392.70" y2="808.50" stroke="#222" stroke-width="0.7"/>
<text x="385.60" y="811.60" font-size="8.3" fill="#111" stroke="#111" stroke-width="0.18" text-anchor="end">1.0</text>
<line x1="390.10" y1="830.05" x2="392.70" y2="830.05" stroke="#222" stroke-width="0.7"/>
<text x="385.60" y="833.15" font-size="8.3" fill="#111" stroke="#111" stroke-width="0.18" text-anchor="end">0.9</text>
<line x1="390.10" y1="851.60" x2="392.70" y2="851.60" stroke="#222" stroke-width="0.7"/>
<text x="385.60" y="854.70" font-size="8.3" fill="#111" stroke="#111" stroke-width="0.18" text-anchor="end">0.8</text>
<line x1="390.10" y1="873.15" x2="392.70" y2="873.15" stroke="#222" stroke-width="0.7"/>
<text x="385.60" y="876.25" font-size="8.3" fill="#111" stroke="#111" stroke-width="0.18" text-anchor="end">0.7</text>
<line x1="390.10" y1="894.70" x2="392.70" y2="894.70" stroke="#222" stroke-width="0.7"/>
<text x="385.60" y="897.80" font-size="8.3" fill="#111" stroke="#111" stroke-width="0.18" text-anchor="end">0.6</text>
<line x1="390.10" y1="916.25" x2="392.70" y2="916.25" stroke="#222" stroke-width="0.7"/>
<text x="385.60" y="919.35" font-size="8.3" fill="#111" stroke="#111" stroke-width="0.18" text-anchor="end">0.5</text>
<line x1="390.10" y1="937.80" x2="392.70" y2="937.80" stroke="#222" stroke-width="0.7"/>
<text x="385.60" y="940.90" font-size="8.3" fill="#111" stroke="#111" stroke-width="0.18" text-anchor="end">0.4</text>
<line x1="390.10" y1="959.35" x2="392.70" y2="959.35" stroke="#222" stroke-width="0.7"/>
<text x="385.60" y="962.45" font-size="8.3" fill="#111" stroke="#111" stroke-width="0.18" text-anchor="end">0.3</text>
<line x1="402.10" y1="959.40" x2="402.10" y2="962.00" stroke="#222" stroke-width="0.7"/>
<text x="401.60" y="972.50" font-size="8.3" fill="#111" stroke="#111" stroke-width="0.18" text-anchor="middle">0.0</text>
<line x1="442.37" y1="959.40" x2="442.37" y2="962.00" stroke="#222" stroke-width="0.7"/>
<text x="441.87" y="972.50" font-size="8.3" fill="#111" stroke="#111" stroke-width="0.18" text-anchor="middle">0.2</text>
<line x1="482.64" y1="959.40" x2="482.64" y2="962.00" stroke="#222" stroke-width="0.7"/>
<text x="482.14" y="972.50" font-size="8.3" fill="#111" stroke="#111" stroke-width="0.18" text-anchor="middle">0.4</text>
<line x1="522.91" y1="959.40" x2="522.91" y2="962.00" stroke="#222" stroke-width="0.7"/>
<text x="522.41" y="972.50" font-size="8.3" fill="#111" stroke="#111" stroke-width="0.18" text-anchor="middle">0.6</text>
<line x1="563.18" y1="959.40" x2="563.18" y2="962.00" stroke="#222" stroke-width="0.7"/>
<text x="562.68" y="972.50" font-size="8.3" fill="#111" stroke="#111" stroke-width="0.18" text-anchor="middle">0.8</text>
<line x1="603.45" y1="959.40" x2="603.45" y2="962.00" stroke="#222" stroke-width="0.7"/>
<text x="602.95" y="972.50" font-size="8.3" fill="#111" stroke="#111" stroke-width="0.18" text-anchor="middle">1.0</text>
<text x="504.50" y="796.50" font-size="9.4" fill="#111" stroke="#111" stroke-width="0.18" text-anchor="middle">Donor-acceptor interaction detection</text>
<text x="503.30" y="983.00" font-size="9" fill="#111" stroke="#111" stroke-width="0.18" text-anchor="middle">Recall</text>
<text transform="translate(368.00,880.00) rotate(-90)" font-size="9" fill="#111" stroke="#111" stroke-width="0.18" text-anchor="middle">Precision</text>
<rect x="397" y="912.4" width="172" height="42.6" rx="1.6" fill="#fff" fill-opacity="0.8" stroke="#cfcfcf" stroke-width="0.7"/>
<line x1="400.40" y1="919.50" x2="419.30" y2="919.50" stroke="#e8242a" stroke-width="1.2"/>
<text x="425.80" y="922.40" font-size="8.1" fill="#111" stroke="#111" stroke-width="0.18" text-anchor="start">substitution-based (AUC: 0.95)</text>
<line x1="400.40" y1="933.10" x2="419.30" y2="933.10" stroke="#5b94c4" stroke-width="1.2"/>
<text x="425.80" y="936.00" font-size="8.1" fill="#111" stroke="#111" stroke-width="0.18" text-anchor="start">mask-based (AUC: 0.94)</text>
<line x1="400.40" y1="946.50" x2="419.30" y2="946.50" stroke="#157a1e" stroke-width="1.2"/>
<text x="425.80" y="949.40" font-size="8.1" fill="#111" stroke="#111" stroke-width="0.18" text-anchor="start">gradient-based (AUC: 0.92)</text>
</svg>
</body></html>
